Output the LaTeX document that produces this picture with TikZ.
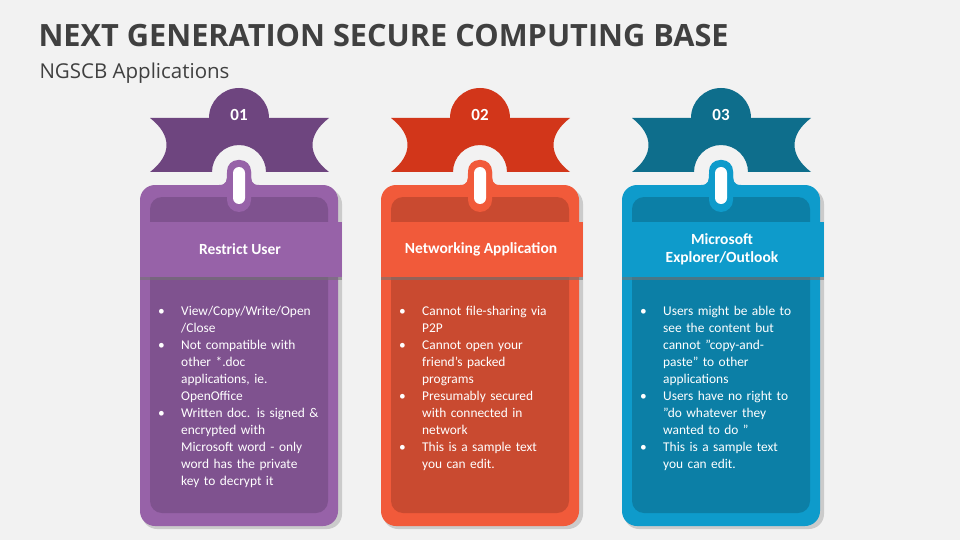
\documentclass[tikz,border=0pt]{standalone}
\usepackage{fontspec}
\setmainfont{Carlito}
\newfontfamily\titlefont{Open Sans}
\usepackage{enumitem}
\newcommand{\dq}{\symbol{34}}
\definecolor{bg}{HTML}{F2F2F2}
\definecolor{txt}{HTML}{404040}
\definecolor{pA}{HTML}{6E457F}\definecolor{pB}{HTML}{9762A8}\definecolor{pC}{HTML}{7F528F}
\definecolor{oA}{HTML}{D2361A}\definecolor{oB}{HTML}{F15A3A}\definecolor{oC}{HTML}{C94A30}
\definecolor{bA}{HTML}{0E6E8C}\definecolor{bB}{HTML}{0E9BCB}\definecolor{bC}{HTML}{0C7FA6}
\newcommand{\card}[6]{% x, dark, card, inner, num, header
\begin{scope}[shift={(#1,0)}]
 \fill[#2] (-89,118) .. controls (-67,135) and (-67,155) .. (-89,172) -- (-27,172)
   arc[start angle=180,end angle=360,radius=27] -- (90,172)
   .. controls (68,155) and (68,135) .. (90,118) -- (30,118)
   arc[start angle=0,end angle=-180,radius=30] -- cycle;
 \node[font=\bfseries\fontsize{17}{17}\selectfont,text=white] (n#1) at (0,115) {#5};
 \fill[black!35,opacity=.5,rounded corners=15] (-97,189) rectangle (103,529);
 \fill[#3,rounded corners=15] (-99,185) rectangle (99,526);
 \fill[#3,rounded corners=11] (-12,160) rectangle (12,205);
 \fill[#3] (-20,185) .. controls (-12,185) and (-12,180) .. (-12,172) -- (12,172) .. controls (12,180) and (12,185) .. (20,185) -- cycle;
 \fill[#4,rounded corners=12] (-89,197) rectangle (89,513);
 \fill[#3] (-12,197) -- (12,197) -- (12,200) arc[start angle=0,end angle=180,radius=12] -- cycle;
 \fill[white,rounded corners=6] (-6,167) rectangle (6,204);
 \fill[black!55,opacity=.6] (-99,276) rectangle (103,280);
 \fill[#3] (-99,222) rectangle (103,277);
 \node[font=\bfseries\fontsize{15.5}{18}\selectfont,text=white,align=center] (h#1) at (1,249.5) {#6};
\end{scope}}
\newcommand{\bul}[2]{\node[anchor=north west,text=white,text width=170pt,inner sep=0pt,font=\fontsize{13.4}{17}\selectfont] (t#1) at (#1-81,298) {\begin{itemize}[leftmargin=23pt,labelsep=*,labelindent=0pt,itemsep=0pt,topsep=0pt,parsep=0pt,label=\textbullet]#2\end{itemize}};}
\begin{document}
\begin{tikzpicture}[x=1pt,y=-1pt]
\fill[bg] (0,0) rectangle (960,540);
\useasboundingbox (0,0) rectangle (960,540);
\node[anchor=west,text=txt,font=\titlefont\bfseries\fontsize{30.7}{32}\selectfont] (title) at (35,36) {NEXT GENERATION SECURE COMPUTING BASE};
\node[anchor=west,text=txt,font=\titlefont\fontsize{20.5}{23}\selectfont] (sub) at (36,73) {NGSCB Applications};
\card{239}{pA}{pB}{pC}{01}{Restrict User}
\card{480}{oA}{oB}{oC}{02}{Networking Application}
\card{721}{bA}{bB}{bC}{03}{Microsoft\\Explorer/Outlook}
\bul{239}{\item View/Copy/Write/Open\newline/Close
\item Not compatible with\newline other *.doc\newline applications, ie.\newline OpenOffice
\item Written doc. is signed \&\newline encrypted with\newline Microsoft word - only\newline word has the private\newline key to decrypt it}
\bul{480}{\item Cannot file-sharing via\newline P2P
\item Cannot open your\newline friend's packed\newline programs
\item Presumably secured\newline with connected in\newline network
\item This is a sample text\newline you can edit.}
\bul{721}{\item Users might be able to\newline see the content but\newline cannot \dq copy-and-\newline paste\dq{} to other\newline applications
\item Users have no right to\newline \dq do whatever they\newline wanted to do ''
\item This is a sample text\newline you can edit.}
\end{tikzpicture}
\end{document}
